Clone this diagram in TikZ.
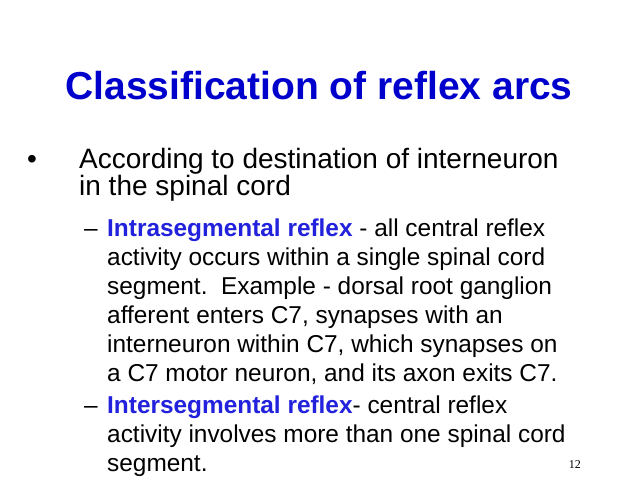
\documentclass[tikz,border=0pt]{standalone}
\usepackage{fontspec}
\setmainfont{Liberation Sans}
\newfontfamily\serifnum{Liberation Serif}
\definecolor{ttl}{RGB}{0,0,204}
\definecolor{kw}{RGB}{34,34,221}
\begin{document}
\begin{tikzpicture}[x=1pt,y=-1pt,
  ln/.style={anchor=base west,inner sep=0pt,font=\fontsize{24.4}{28}\selectfont},
  ln1/.style={anchor=base west,inner sep=0pt,font=\fontsize{28}{32}\selectfont}]
\useasboundingbox[fill=white] (0,0) rectangle (638,478);
\node[anchor=base,inner sep=0pt,font=\fontsize{39}{44}\selectfont\bfseries,text=ttl] (title) at (319,100) {Classification of reflex arcs};
\node[ln1] (b1) at (27,169) {•};
\node[ln1] (l1) at (79,169) {According to destination of interneuron};
\node[ln1] (l2) at (79,196) {in the spinal cord};
\node[ln] (d1) at (84,237) {–};
\node[ln] (s1) at (107,237) {\textbf{\textcolor{kw}{Intrasegmental reflex}} - all central reflex};
\node[ln] (s2) at (107,266) {activity occurs within a single spinal cord};
\node[ln] (s3) at (107,295) {segment.\ \ Example - dorsal root ganglion};
\node[ln] (s4) at (107,324) {afferent enters C7, synapses with an};
\node[ln] (s5) at (107,353) {interneuron within C7, which synapses on};
\node[ln] (s6) at (107,382) {a C7 motor neuron, and its axon exits C7.};
\node[ln] (d2) at (84,414) {–};
\node[ln] (s7) at (107,414) {\textbf{\textcolor{kw}{Intersegmental reflex}}- central reflex};
\node[ln] (s8) at (107,443) {activity involves more than one spinal cord};
\node[ln] (s9) at (107,472) {segment.};
\node[anchor=base east,inner sep=0pt,font=\serifnum\fontsize{12}{14}\selectfont] (pg) at (581,469) {12};
\end{tikzpicture}
\end{document}
